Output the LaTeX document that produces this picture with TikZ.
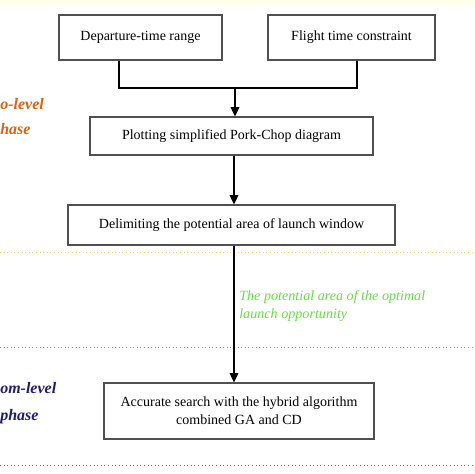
\documentclass[tikz,border=0pt]{standalone}
\usepackage{fontspec}
\setmainfont{Liberation Serif}
\usetikzlibrary{positioning}
\usetikzlibrary{arrows.meta}
\usetikzlibrary{calc}
\definecolor{boxline}{HTML}{505050}
\definecolor{toplevel}{HTML}{E0600F}
\definecolor{botlevel}{HTML}{1C1C78}
\definecolor{hint}{HTML}{66DD44}
\definecolor{sepyellow}{HTML}{E2D86A}
\definecolor{sepgray}{HTML}{8A8FA8}
\definecolor{sepblue}{HTML}{6464B0}

\begin{document}
\begin{tikzpicture}[x=0.75pt, y=-0.75pt,
                    stepbox/.style={draw=boxline, line width=0.8pt, fill=white,
                                    font=\fontsize{10.5}{13.5}\selectfont,
                                    align=center, inner sep=0pt},
                    flow/.style={draw=black, line width=1pt},
                    level/.style={font=\fontsize{12}{15}\selectfont\bfseries\itshape,
                                  anchor=base west, inner sep=0pt},
                    sep/.style={dotted, line width=0.7pt}]

  \useasboundingbox (0,0) rectangle (474,474);
  \shade[top color=yellow!9, bottom color=white] (0,0) rectangle (474,10);

  % boxes
  \node[stepbox, minimum width=122.25pt, minimum height=33.75pt] (depart) at (140.5,37.5)
    {Departure-time range};
  \node[stepbox, minimum width=125.25pt, minimum height=33.75pt] (flight) at (351.5,37.5)
    {Flight time constraint};
  \node[stepbox, minimum width=212.25pt, minimum height=28.5pt] (porkchop) at (231.5,136)
    {Plotting simplified Pork-Chop diagram};
  \node[stepbox, minimum width=245.25pt, minimum height=30pt] (delimit) at (231.5,225)
    {Delimiting the potential area of launch window};
  \node[stepbox, minimum width=202.5pt, minimum height=42pt] (search) at (239,411)
    {Accurate search with the hybrid algorithm\\combined GA and CD};

  % phase labels
  \node[level, text=toplevel] (toplbl1) at (0,110) {o-level};
  \node[level, text=toplevel] (toplbl2) at (0,135) {hase};
  \node[level, text=botlevel] (botlbl1) at (0,393) {om-level};
  \node[level, text=botlevel] (botlbl2) at (0,420) {phase};

  % separators
  \draw[sep, draw=sepyellow] (0,252) -- (474,252);
  \draw[sep, draw=sepgray]   (0,347) -- (474,347);
  \draw[sep, draw=sepblue]   (0,465) -- (474,465);

  % connectors
  \coordinate (leg1) at (119,88);
  \coordinate (leg2) at (357,88);
  \coordinate (join) at (235,88);
  \coordinate (spine) at (234,0);
  \draw[flow] (leg1 |- depart.south) -- (leg1) -- (leg2) -- (leg2 |- flight.south);
  \draw[flow, -{Triangle[length=7pt, width=6.5pt]}] (join) -- (join |- porkchop.north);
  \draw[flow, -{Triangle[length=7pt, width=6.5pt]}] (porkchop.south -| spine) -- (delimit.north -| spine);
  \draw[flow, -{Triangle[length=7pt, width=6.5pt]}] (delimit.south -| spine) -- (search.north -| spine);

  \node[font=\fontsize{10.6}{13.5}\selectfont\itshape, text=hint, align=left,
        anchor=north west, inner sep=0pt] (hintlbl) at (239,290)
    {The potential area of the optimal\\launch opportunity};

\end{tikzpicture}
\end{document}
